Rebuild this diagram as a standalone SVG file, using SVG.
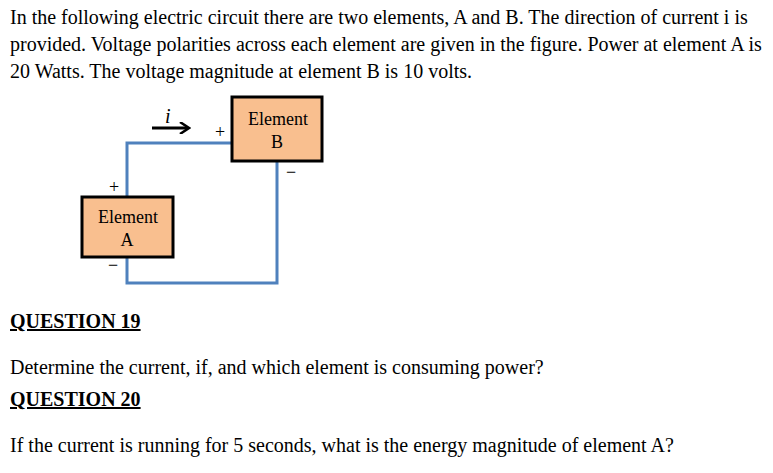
<svg xmlns="http://www.w3.org/2000/svg" width="773" height="473" viewBox="0 0 773 473">
<style>
text{font-family:"Liberation Serif","Times New Roman",serif;font-size:20px;fill:#000}
.b{font-weight:bold;text-decoration:underline}
.box{fill:#f9bf8f;stroke:#000;stroke-width:3}
.w{fill:none;stroke:#4f81bd;stroke-width:3}
.lbl{font-size:18px;text-anchor:middle}
.s{font-size:18px;text-anchor:middle}
</style>
<defs><marker id="ah" markerWidth="12" markerHeight="12" refX="9" refY="6" orient="auto" markerUnits="userSpaceOnUse"><path d="M1,0 L10,6 L1,12" fill="none" stroke="#000" stroke-width="2.5"/></marker></defs>
<rect width="773" height="473" fill="#fff"/>
<text x="10" y="24">In the following electric circuit there are two elements, A and B. The direction of current i is</text>
<text x="10" y="51">provided. Voltage polarities across each element are given in the figure. Power at element A is</text>
<text x="10" y="78">20 Watts. The voltage magnitude at element B is 10 volts.</text>
<g id="connectors">
<path class="w" d="M127,197 V143 H232"/>
<path class="w" d="M277,161 V283 H127 V257"/>
<line x1="152" y1="128" x2="188" y2="128" stroke="#000" stroke-width="3" marker-end="url(#ah)"/>
</g>
<text x="165" y="123" style="font-style:italic">i</text>
<g id="B"><rect class="box" x="232" y="97" width="90" height="64"/><text class="lbl" x="278" y="125">Element</text><text class="lbl" x="277" y="148">B</text></g>
<g id="A"><rect class="box" x="82" y="197" width="91" height="60"/><text class="lbl" x="128" y="223">Element</text><text class="lbl" x="127" y="246">A</text></g>
<text class="s" x="220" y="138">+</text>
<text class="s" x="114" y="193">+</text>
<text class="s" x="291" y="178">−</text>
<text class="s" x="113" y="271">−</text>
<text class="b" x="10" y="328">QUESTION 19</text>
<text x="10" y="374">Determine the current, if, and which element is consuming power?</text>
<text class="b" x="10" y="406">QUESTION 20</text>
<text x="10" y="452">If the current is running for 5 seconds, what is the energy magnitude of element A?</text>
</svg>
